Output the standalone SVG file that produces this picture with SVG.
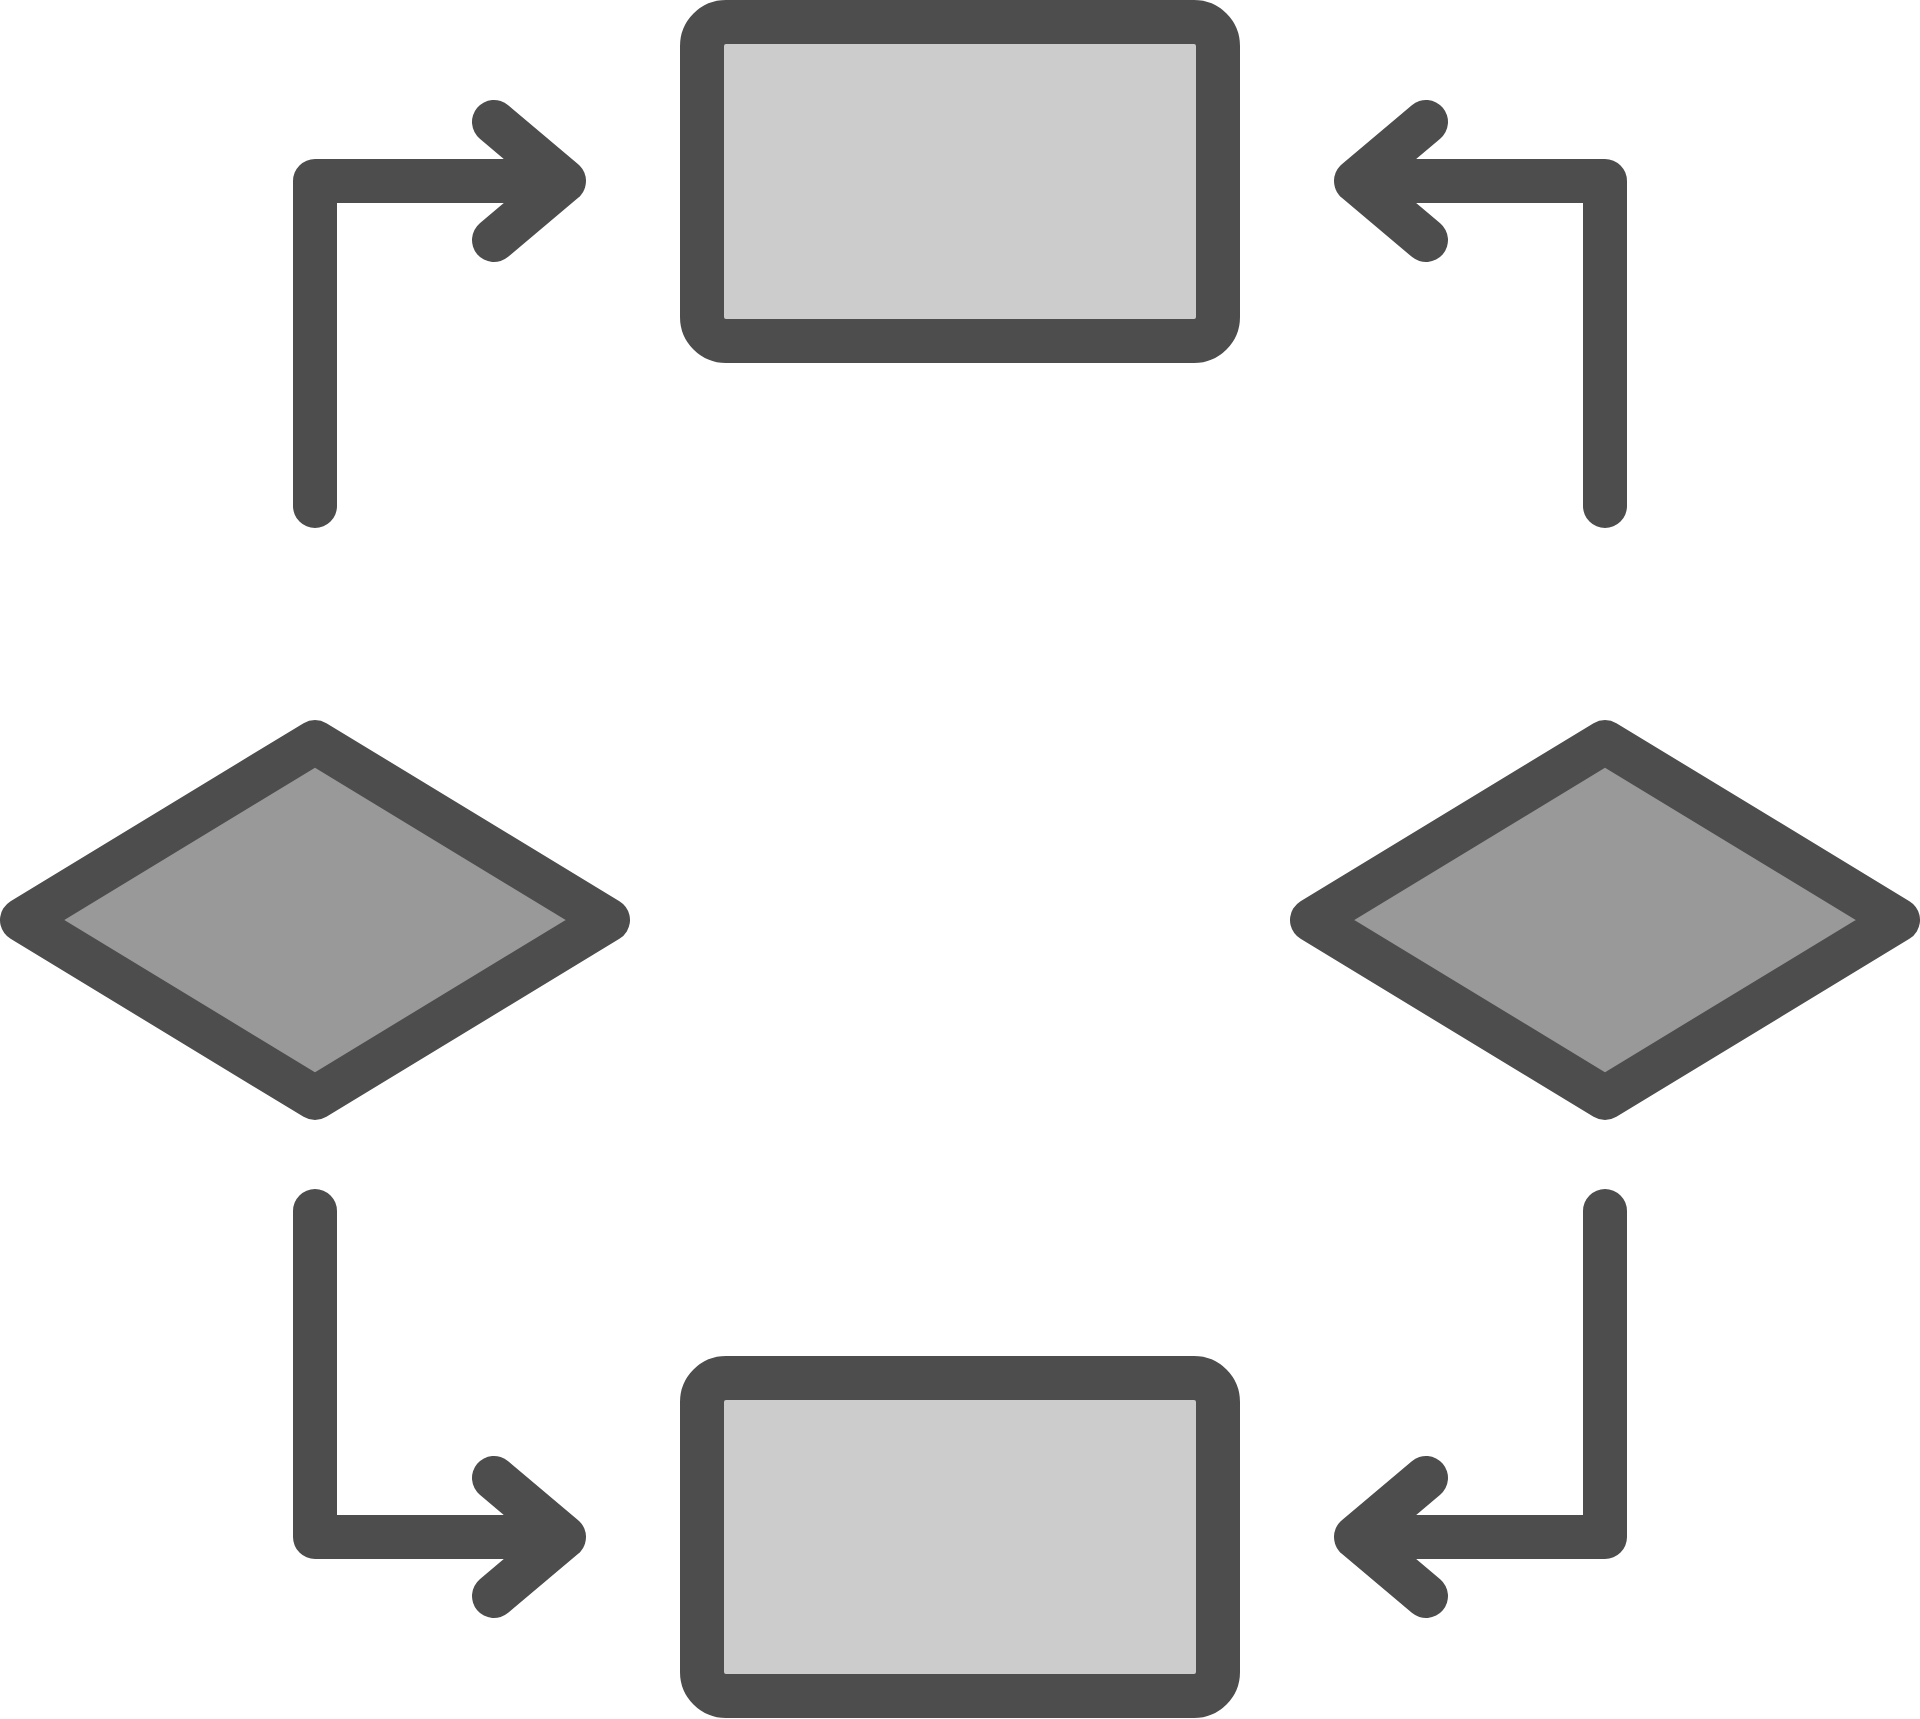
<svg xmlns="http://www.w3.org/2000/svg" width="1920" height="1719" viewBox="0 0 1920 1719">
<style>
.box{fill:#cccccc;stroke:#4d4d4d;stroke-width:44;stroke-linejoin:round}
.dia{fill:#999999;stroke:#4d4d4d;stroke-width:44;stroke-linejoin:round}
.con{fill:none;stroke:#4d4d4d;stroke-width:44;stroke-linejoin:round;stroke-linecap:round}
</style>
<rect width="1920" height="1719" fill="#ffffff"/>
<g id="box-top"><rect class="box" x="702" y="22" width="516" height="319" rx="24" ry="24"/></g>
<g id="box-bottom"><rect class="box" x="702" y="1378" width="516" height="318" rx="24" ry="24"/></g>
<g id="decision-left"><polygon class="dia" points="22,920 315,742 608,920 315,1098"/></g>
<g id="decision-right"><polygon class="dia" points="1312,920 1605,742 1898,920 1605,1098"/></g>
<g id="connectors">
<path class="con" d="M315,506 V181 H564 M494,122 L564,181 L494,240"/>
<path class="con" d="M1605,506 V181 H1356 M1426,122 L1356,181 L1426,240"/>
<path class="con" d="M315,1211 V1537 H564 M494,1478 L564,1537 L494,1596"/>
<path class="con" d="M1605,1211 V1537 H1356 M1426,1478 L1356,1537 L1426,1596"/>
</g>
</svg>
